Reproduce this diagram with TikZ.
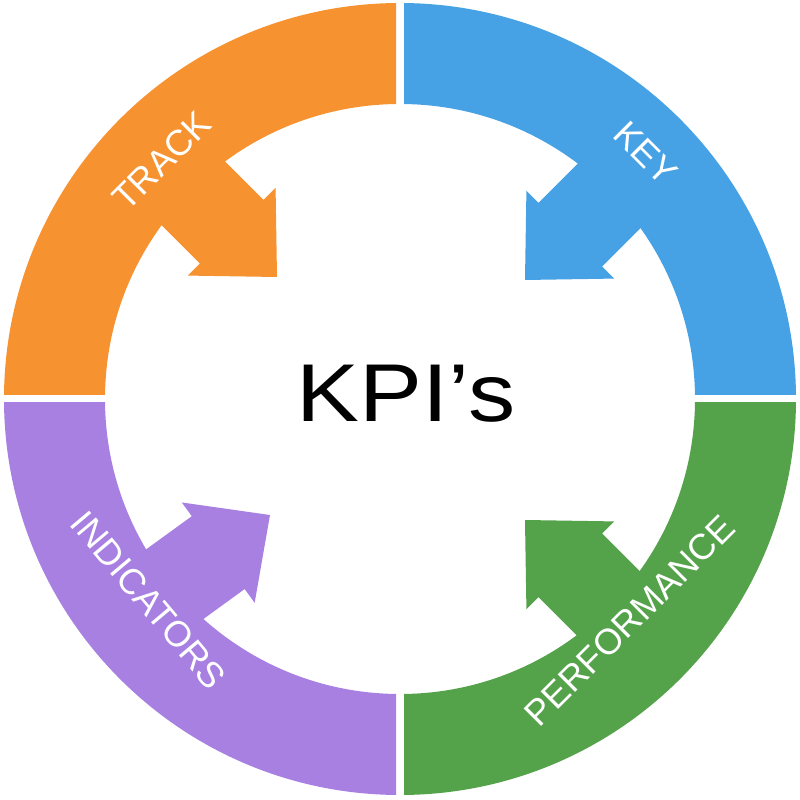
\documentclass[tikz,border=0pt]{standalone}
\usepackage{fontspec}
\setmainfont{Liberation Sans}
\usepackage{xcolor}
\definecolor{trackorange}{RGB}{247,146,48}
\definecolor{keyblue}{RGB}{70,162,228}
\definecolor{perfgreen}{RGB}{84,162,74}
\definecolor{indpurple}{RGB}{168,128,226}

\begin{document}
\begin{tikzpicture}[x=1pt,y=1pt,
    ring/.style={even odd rule},
    word/.style={text=white,inner sep=0pt,font=\fontsize{36}{36}\selectfont},
    title/.style={text=black,inner sep=0pt,xscale=1.15,font=\fontsize{82}{82}\selectfont},
    kpi arrow/.pic={\fill (0,0) -- (-64,62) -- (-64,45) -- (-170,45) -- (-170,-45) -- (-64,-45) -- (-64,-62) -- cycle;}]
    \useasboundingbox (-400,-401) rectangle (400,399);

    % top left quarter
    \begin{scope}
        \clip (-4,4) rectangle (-400,399);
        \fill[trackorange,ring] (0,0) circle (396) (0,0) circle (295);
        \pic[fill=trackorange,rotate=-45] at (-123,122) {kpi arrow};
    \end{scope}
    % top right quarter
    \begin{scope}
        \clip (4,4) rectangle (400,399);
        \fill[keyblue,ring] (0,0) circle (396) (0,0) circle (295);
        \pic[fill=keyblue,rotate=225] at (125,119) {kpi arrow};
    \end{scope}
    % bottom right quarter
    \begin{scope}
        \clip (4,-4) rectangle (400,-401);
        \fill[perfgreen,ring] (0,0) circle (396) (0,0) circle (295);
        \pic[fill=perfgreen,rotate=135] at (125,-121) {kpi arrow};
    \end{scope}
    % bottom left quarter
    \begin{scope}
        \clip (-4,-4) rectangle (-400,-401);
        \fill[indpurple,ring] (0,0) circle (396) (0,0) circle (295);
        \pic[fill=indpurple,rotate=36] at (-130,-116) {kpi arrow};
    \end{scope}

    \node[word,rotate=45] (track) at (135:337) {TRACK};
    \node[word,rotate=-45] (key) at (45:347) {KEY};
    \node[word,rotate=45] (performance) at (-44:319) {PERFORMANCE};
    \node[word,rotate=-50] (indicators) at (218.6:322) {INDICATORS};

    \node[title] (kpis) at (6,5) {KPI’s};
\end{tikzpicture}
\end{document}
